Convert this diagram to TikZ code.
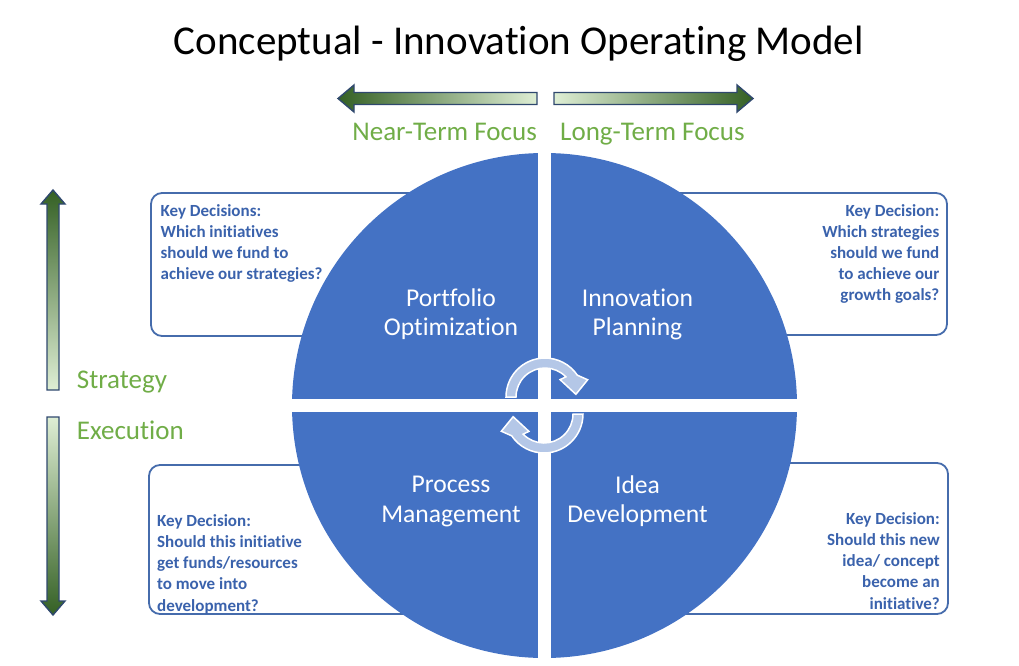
\documentclass[tikz,border=0pt]{standalone}
\usepackage{fontspec}
\setmainfont{Carlito}[Ligatures=NoCommon]
\usepackage{xcolor}
\definecolor{quadblue}{RGB}{68,114,196}
\definecolor{boxblue}{RGB}{70,108,172}
\definecolor{notetext}{RGB}{58,98,172}
\definecolor{focusgreen}{RGB}{112,173,71}
\definecolor{gdark}{RGB}{52,96,36}
\definecolor{gmid}{RGB}{112,173,71}
\definecolor{glight}{RGB}{222,238,212}
\definecolor{arrowline}{RGB}{47,72,110}
\definecolor{cyclefill}{RGB}{180,199,231}

\tikzset{
  keybox/.style={draw=boxblue, line width=1.8bp, rounded corners=11bp},
  keytext/.style={inner sep=0pt, text=notetext, font=\fontsize{17bp}{21.1bp}\selectfont\bfseries},
  quadlabel/.style={inner sep=0pt, text=white, align=center, font=\fontsize{25.6bp}{29.3bp}\selectfont},
  focuslabel/.style={inner sep=0pt, text=focusgreen, font=\fontsize{27bp}{32bp}\selectfont},
  blockarrow/.style={draw=arrowline, line width=1.4bp, line join=miter},
  cyclearrow/.style={fill=cyclefill, draw=white, line width=1.5bp}
}

\begin{document}
\begin{tikzpicture}[x=1bp, y=-1bp]
\useasboundingbox (0,0) rectangle (1019,666);

% Title
\node[anchor=base west, inner sep=0pt, font=\fontsize{41bp}{48bp}\selectfont] (title) at (173.5,54.3) {Conceptual - Innovation Operating Model};

% Horizontal focus arrows
\draw[blockarrow, left color=gdark, middle color=gmid, right color=glight]
  (537,92.5) -- (354,92.5) -- (354,85) -- (338,98.5) -- (354,112) -- (354,104.5) -- (537,104.5) -- cycle;
\draw[blockarrow, left color=glight, middle color=gmid, right color=gdark]
  (554,92.5) -- (737,92.5) -- (737,85) -- (753,98.5) -- (737,112) -- (737,104.5) -- (554,104.5) -- cycle;
\node[focuslabel, anchor=base east] (nearterm) at (537,140.5) {Near-Term Focus};
\node[focuslabel, anchor=base west] (longterm) at (560,140.5) {Long-Term Focus};

% Vertical strategy / execution arrows
\draw[blockarrow, top color=gdark, middle color=gmid, bottom color=glight]
  (47,390) -- (47,204) -- (41,204) -- (53,190) -- (65,204) -- (59,204) -- (59,390) -- cycle;
\draw[blockarrow, top color=glight, middle color=gmid, bottom color=gdark]
  (47,417) -- (47,601) -- (41,601) -- (53,615) -- (65,601) -- (59,601) -- (59,417) -- cycle;
\node[focuslabel, anchor=base west] (strategy) at (76.7,388.5) {Strategy};
\node[focuslabel, anchor=base west] (execution) at (76.7,439) {Execution};

% Key decision boxes (behind the circle)
\draw[keybox] (151,193) rectangle (480,336);
\draw[keybox] (947,193) rectangle (610,335);
\draw[keybox] (149,465) rectangle (480,614);
\draw[keybox] (948,463) rectangle (610,614);

% Quarter circle
\begin{scope}
  \clip (544.5,405.5) circle[radius=252.5];
  \fill[quadblue] (280,140) rectangle (538,399);
  \fill[quadblue] (551,140) rectangle (810,399);
  \fill[quadblue] (280,412) rectangle (538,670);
  \fill[quadblue] (551,412) rectangle (810,670);
\end{scope}

\node[quadlabel] (portfolio) at (451,314.5) {Portfolio\\Optimization};
\node[quadlabel] (planning) at (637.5,314.5) {Innovation\\Planning};
\node[quadlabel] (process) at (451,501.5) {Process\\Management};
\node[quadlabel] (idea) at (637.5,501.5) {Idea\\Development};

% Cycle arrows
\begin{scope}[shift={(545,397)}]
  \path[cyclearrow] (180:29) -- (180:39) arc[start angle=180, end angle=326, radius=39]
    -- (338:46) -- (355:31) -- (311:23) -- (316:29) arc[start angle=316, end angle=180, radius=29] -- cycle;
\end{scope}
\begin{scope}[shift={(544,414)}, rotate=180]
  \path[cyclearrow] (180:29) -- (180:39) arc[start angle=180, end angle=326, radius=39]
    -- (338:46) -- (355:31) -- (311:23) -- (316:29) arc[start angle=316, end angle=180, radius=29] -- cycle;
\end{scope}

% Key decision texts
\node[keytext, anchor=north west, align=left] (tlnote) at (160.5,204)
  {Key Decisions:\\Which initiatives\\should we fund to\\achieve our strategies?};
\node[keytext, anchor=north east, align=right] (trnote) at (939.5,204)
  {Key Decision:\\Which strategies\\should we fund\\to achieve our\\growth goals?};
\node[keytext, anchor=north west, align=left] (blnote) at (157,514.5)
  {Key Decision:\\Should this initiative\\get funds/resources\\to move into\\development?};
\node[keytext, anchor=north east, align=right] (brnote) at (940,512.5)
  {Key Decision:\\Should this new\\idea/ concept\\become an\\initiative?};
\end{tikzpicture}
\end{document}
